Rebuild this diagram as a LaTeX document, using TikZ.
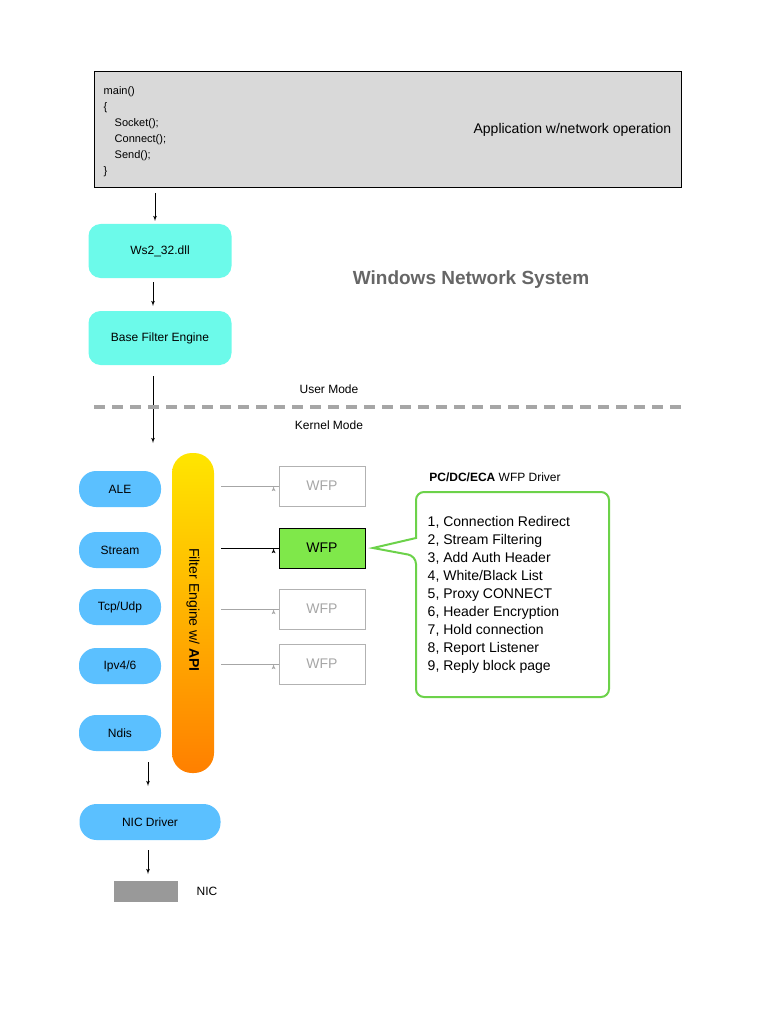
\documentclass[tikz,border=0pt]{standalone}
\usepackage{fontspec}
\setmainfont{Liberation Sans}
\usetikzlibrary{arrows,positioning,calc}
\definecolor{codegray}{HTML}{D9D9D9}
\definecolor{aqua}{HTML}{6CFAEA}
\definecolor{pill}{HTML}{5BC0FF}
\definecolor{wfpgreen}{HTML}{7FE84A}
\definecolor{callgreen}{HTML}{6CD24A}

\begin{document}
\begin{tikzpicture}[x=1pt, y=-1pt,
    userbox/.style={draw=none, fill=aqua, rounded corners=12pt, minimum width=143pt,
        minimum height=54pt, font=\fontsize{12}{14}\selectfont},
    layer/.style={draw=none, fill=pill, rounded corners=17pt, minimum width=82pt,
        minimum height=36pt, font=\fontsize{12}{14}\selectfont},
    wfp/.style={draw=gray!60, thick, minimum width=86pt, minimum height=40pt,
        text=gray!70, font=\fontsize{14}{16}\selectfont},
    every path/.style={thick}]
    \useasboundingbox (0,0) rectangle (768,1024);

    % application
    \node[draw, fill=codegray, minimum width=587pt, minimum height=116pt] (app) at (387.5,129) {};
    \node[anchor=north west, align=left, font=\fontsize{11}{16}\selectfont] (code) at (100,83)
        {main()\\\{\\\quad Socket();\\\quad Connect();\\\quad Send();\\\}};
    \node[anchor=east, font=\fontsize{14}{16}\selectfont] (applabel) at (675,130) {Application w/network operation};

    % user mode
    \node[userbox] (ws2) at (160,251) {Ws2\_32.dll};
    \node[userbox] (bfe) at (160,338) {Base Filter Engine};
    \node[text=gray!80!black, font=\bfseries\fontsize{19}{22}\selectfont] (title) at (471,280) {Windows Network System};

    \coordinate (a1) at (155,193);
    \coordinate (a2) at (155,221);
    \draw[-latex'] (a1) -- (a2);
    \draw[-latex'] (ws2.south -| 153,0) ++(0,4) coordinate (b1) -- (153,306) coordinate (b2);
    \draw[-latex'] (153,376) coordinate (c1) -- (153,443) coordinate (c2);

    \coordinate (dl) at (94,407);
    \coordinate (dr) at (681,407);
    \draw[gray!70, line width=4.5pt, dash pattern=on 11pt off 7pt] (dl) -- (dr);
    \node[font=\fontsize{12}{14}\selectfont] (user) at (329,389) {User Mode};
    \node[font=\fontsize{12}{14}\selectfont] (kernel) at (329,425) {Kernel Mode};

    % kernel layers
    \foreach \name/\txt/\y in {ale/ALE/489, stream/Stream/550, tcp/Tcp\slash Udp/607,
        ip/Ipv4\slash 6/666, ndis/Ndis/733}
        \node[layer] (\name) at (120,\y) {\txt};

    \shade[top color=yellow!80!orange, bottom color=orange, rounded corners=20pt]
        (172,453) rectangle (214,773);
    \node[rotate=-90, font=\fontsize{14}{16}\selectfont] (engine) at (193,610) {Filter Engine w/ \textbf{API}};

    \node[wfp] (wfp1) at (322,486) {WFP};
    \node[wfp, draw=black, fill=wfpgreen, text=black] (wfp2) at (322,548) {WFP};
    \node[wfp] (wfp3) at (322,609) {WFP};
    \node[wfp] (wfp4) at (322,664) {WFP};
    \foreach \w/\c in {wfp1/gray!70, wfp2/black, wfp3/gray!70, wfp4/gray!70}
        \draw[-latex', \c] (221,0 |- \w.west) -- (\w.west) ++(-5,0);

    \draw[-latex'] (148,762) coordinate (d1) -- (148,786) coordinate (d2);
    \node[layer, minimum width=141pt] (nicdrv) at (150,822) {NIC Driver};
    \draw[-latex'] (148,850) coordinate (e1) -- (148,874) coordinate (e2);
    \node[fill=gray!80, minimum width=64pt, minimum height=21pt] (nic) at (146,891) {};
    \node[font=\fontsize{12}{14}\selectfont] (niclabel) at (207,891) {NIC};

    % callout
    \node[font=\fontsize{12}{14}\selectfont] (drv) at (495,477) {\textbf{PC/DC/ECA} WFP Driver};
    \draw[callgreen, line width=2pt, rounded corners=8pt, fill=white]
        (416,538) -- (416,492) -- (609,492) -- (609,697) -- (416,697) -- (416,556)
        [sharp corners] -- (373,548) -- cycle;
    \node[anchor=north west, align=left, font=\fontsize{14}{18}\selectfont] (list) at (424,513)
        {1, Connection Redirect\\2, Stream Filtering\\3, Add Auth Header\\4, White/Black List\\
         5, Proxy CONNECT\\6, Header Encryption\\7, Hold connection\\8, Report Listener\\
         9, Reply block page};
\end{tikzpicture}
\end{document}
